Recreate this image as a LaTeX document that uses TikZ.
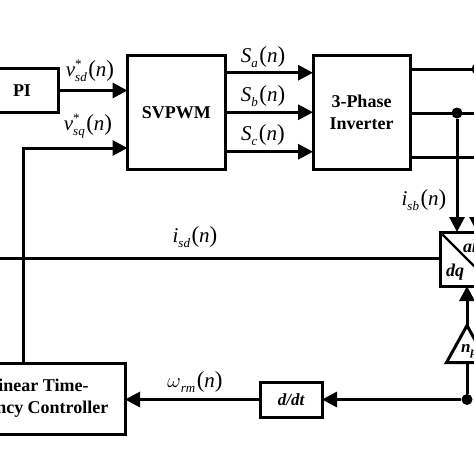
\documentclass[tikz,border=0pt]{standalone}
\usepackage{fontspec}
\setmainfont{Liberation Serif}
\usetikzlibrary{positioning,arrows.meta,calc,shapes.geometric}
\newcommand{\sigv}[3]{{\itshape #1}$^{\hbox{\fontsize{13}{13}\selectfont #2}}_{\hbox{\fontsize{13}{13}\itshape #3}}$\kern1pt{\fontsize{23}{23}\selectfont(}{\itshape n}{\fontsize{23}{23}\selectfont)}}
\begin{document}
\begin{tikzpicture}[
  x=1pt, y=1pt,
  block/.style={draw, line width=3pt, inner sep=0pt, outer sep=0pt, align=center,
                font=\fontsize{18}{22}\selectfont\bfseries},
  arrow/.style={-{Triangle[length=15pt,width=15pt]}, line width=3pt},
  wire/.style={line width=3pt},
  dot/.style={circle, fill, inner sep=0pt, minimum size=11pt},
  siglabel/.style={font=\fontsize{21}{23}\selectfont, inner sep=0pt}
]
  \path[use as bounding box, clip] (0,-474) rectangle (474,0);

  \node[block, minimum width=97.5pt, minimum height=113.5pt] (svpwm) at (176.25,-112.25) {SVPWM};
  \node[block, minimum width=97pt, minimum height=113.5pt, right=88pt of svpwm] (inv) {3-Phase\\Inverter};
  \node[block, minimum width=72pt, minimum height=44pt] (pi) at (22,-90.5) {PI};
  \node[block, minimum width=54pt, minimum height=54pt] (park) at (467,-259) {};
  \node[block, minimum width=62pt, minimum height=35pt, font=\fontsize{17}{20}\selectfont\bfseries\itshape] (ddt) at (291,-399.5) {d/dt};
  \node[block, minimum width=200pt, minimum height=71pt] (ctrl) at (25,-398.5) {Nonlinear Time-\\Frequency Controller};
  \node[draw, isosceles triangle, isosceles triangle apex angle=58, shape border rotate=90,
        line width=3pt, inner sep=0pt, outer sep=0pt, minimum height=37pt, anchor=apex] (gain) at (467,-325.5) {};
  \node[font=\fontsize{17}{19}\selectfont\bfseries\itshape, inner sep=0pt] (np) at (469,-351) {n\textsubscript{p}};

  % Park block inner
  \draw[line width=2.4pt] (park.north west) -- (park.south east);
  \node[font=\fontsize{18}{20}\selectfont\bfseries\itshape, inner sep=0pt] (abc) at (476,-246) {abc};
  \node[font=\fontsize{18}{20}\selectfont\bfseries\itshape, inner sep=0pt] (dq) at (455,-272) {dq};

  % PWM outputs
  \draw[arrow] ([yshift=39.5pt]svpwm.east) -- ([yshift=39.5pt]inv.west);
  \draw[arrow] (svpwm.east) -- (inv.west);
  \draw[arrow] ([yshift=-39.5pt]svpwm.east) -- ([yshift=-39.5pt]inv.west);
  \node[siglabel] (sa) at (263,-57) {\sigv{S}{}{a}};
  \node[siglabel] (sb) at (263,-96) {\sigv{S}{}{b}};
  \node[siglabel] (sc) at (263,-135) {\sigv{S}{}{c}};

  % Voltage refs
  \coordinate (svpwmd) at (svpwm.west |- pi.east);
  \coordinate (bend) at (23,-148);
  \coordinate (svpwmq) at (svpwm.west |- bend);
  \draw[arrow] (pi.east) -- (svpwmd);
  \draw[arrow] (ctrl.north -| bend) -- (bend) -- (svpwmq);
  \node[siglabel] (vsd) at (90,-71) {\sigv{v}{*}{sd}};
  \node[siglabel] (vsq) at (88,-126) {\sigv{v}{*}{sq}};

  % Inverter phases
  \coordinate (phasea) at (490,-69);
  \coordinate (phaseb) at (490,-113);
  \coordinate (phasec) at (490,-157);
  \draw[wire] (inv.east |- phasea) -- (phasea);
  \draw[wire] (inv.east |- phaseb) -- (phaseb);
  \draw[wire] (inv.east |- phasec) -- (phasec);
  \node[dot] (dota) at (477,-69) {};
  \node[dot] (dotb) at (457,-113) {};

  % Current sensing
  \draw[arrow] (dotb) -- (dotb |- park.north);
  \draw[arrow] (dota) -- (dota |- park.north);
  \node[siglabel] (isb) at (424,-200) {\sigv{i}{}{sb}};
  \coordinate (isdend) at (-5,-258);
  \draw[wire] (park.west |- isdend) -- (isdend);
  \node[siglabel] (isd) at (195,-237) {\sigv{i}{}{sd}};

  % Speed path
  \node[dot] (dotw) at (467,-399.5) {};
  \draw[wire] (gain.south) -- (dotw);
  \draw[arrow] (gain.apex) -- (park.south);
  \draw[arrow] (dotw) -- (ddt.east);
  \draw[arrow] (ddt.west) -- (ctrl.east |- ddt.west);
  \node[siglabel] (wrm) at (195,-382) {\sigv{$\omega$}{}{rm}};
\end{tikzpicture}
\end{document}
